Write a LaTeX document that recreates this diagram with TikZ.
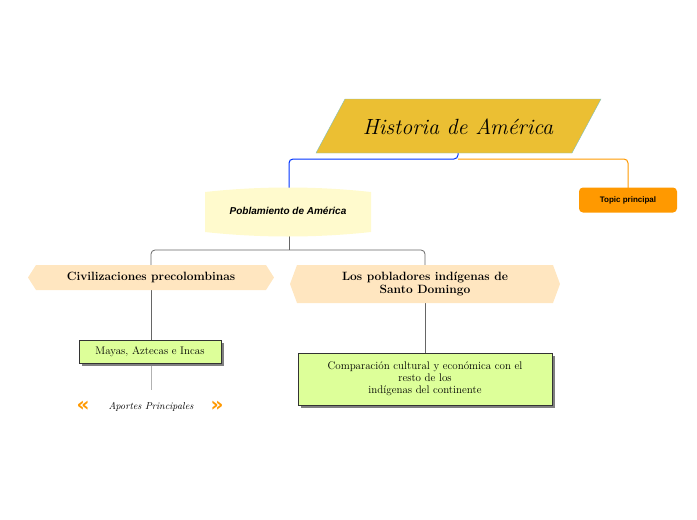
\documentclass[tikz,border=0pt]{standalone}
\usepackage{fontspec}
\newfontfamily\sans{Liberation Sans}
\newfontfamily\djv{DejaVu Sans}
\usetikzlibrary{shapes.geometric}
\definecolor{gold}{HTML}{EBBF33}
\definecolor{peach}{HTML}{FFE6C0}
\definecolor{lgreen}{HTML}{DDFF99}
\definecolor{lyel}{HTML}{FFFACD}
\definecolor{orng}{HTML}{FF9900}
\tikzset{x=1pt,y=-1pt,
 gbox/.style={draw=black!80,fill=lgreen,align=center,font=\fontsize{11}{11}\selectfont,inner sep=3pt},
 glink/.style={draw=black!60,line width=0.8pt,rounded corners=4pt},
 hexa/.style={fill=peach}}
\begin{document}
\begin{tikzpicture}
\useasboundingbox (0,0) rectangle (697,520);
% connectors
\draw[draw=blue!80!cyan,line width=1pt,rounded corners=4pt] (458,153) -- (458,159) -- (289,159) -- (289,190);
\draw[draw=orng,line width=1pt,rounded corners=4pt] (458,159) -- (628,159) -- (628,188);
\draw[glink] (289,236) -- (289,250);
\draw[glink] (151,266) -- (151,250) -- (425,250) -- (425,266);
\draw[glink] (151,290) -- (151,341);
\draw[draw=black!30,line width=0.8pt] (151,363) -- (151,390);
\draw[glink] (425,303) -- (425,354);
% title
\fill[gold,draw=teal!50] (316,153) -- (345,99) -- (601,99) -- (572,153) -- cycle;
\node (title) at (458,127) {\fontsize{22}{22}\selectfont\itshape Historia de América};
% topic
\node[fill=orng,rounded corners=4pt,minimum width=98pt,minimum height=25pt,font=\sans\bfseries\fontsize{8}{8}\selectfont] (topic) at (628,200) {Topic principal};
% poblamiento
\fill[lyel] (205,192) .. controls (260,186) and (316,186) .. (371,192) -- (371,232) .. controls (316,238) and (260,238) .. (205,232) -- cycle;
\node[font=\sans\bfseries\itshape\fontsize{10}{10}\selectfont] (pob) at (288,211) {Poblamiento de América};
% hexagons
\fill[hexa] (28,277.5) -- (36,265) -- (266,265) -- (274,277.5) -- (266,290) -- (36,290) -- cycle;
\node[font=\bfseries\fontsize{12}{12}\selectfont] (civ) at (151,277.5) {Civilizaciones precolombinas};
\fill[hexa] (290,284) -- (297,265) -- (553,265) -- (560,284) -- (553,303) -- (297,303) -- cycle;
\node[font=\bfseries\fontsize{12}{13}\selectfont,align=center] (pobl) at (425,284) {Los pobladores indígenas de\\Santo Domingo};
% green boxes
\fill[black!50] (82,343) rectangle (224,366);
\node[gbox,minimum width=142pt,minimum height=23pt] (may) at (150,351.5) {Mayas, Aztecas e Incas};
\fill[black!50] (301,356) rectangle (555,408);
\node[gbox,minimum width=254pt,minimum height=52pt,font=\fontsize{11}{12}\selectfont] (comp) at (425,379) {Comparación cultural y económica con el\\resto de los\\indígenas del continente};
% aportes
\node[font=\itshape\fontsize{10}{10}\selectfont] (ap) at (151,407) {Aportes Principales};
\node[text=orng,font=\djv\bfseries\fontsize{20}{20}\selectfont] at (83,406) {«};
\node[text=orng,font=\djv\bfseries\fontsize{20}{20}\selectfont] at (217,406) {»};
\end{tikzpicture}
\end{document}
